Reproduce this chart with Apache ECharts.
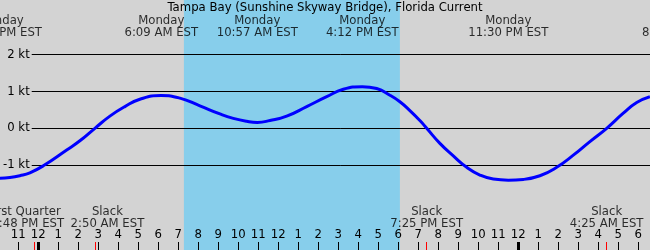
<!DOCTYPE html>
<html><head><meta charset="utf-8">
<script src="https://cdn.jsdelivr.net/npm/echarts@6/dist/echarts.min.js"></script>
<style>html,body{margin:0;padding:0;background:#d3d3d3}#c{width:650px;height:250px}</style>
</head><body><div id="c"></div>
<script>
// ---- data (hours measured from Monday 00:00 EST) ----
const TITLE = 'Tampa Bay (Sunshine Skyway Bridge), Florida Current';
const curveHours = [-1.92, -1.42, -0.92, -0.42, 0.25, 1.42, 2.08, 2.83, 3.58, 4.33, 5.08, 6.15, 7.08, 8.08, 9.08,
  9.75, 10.42, 10.95, 11.58, 12.42, 13.42, 14.42, 15.25, 16.2, 16.92, 17.58, 18.08, 18.58, 19.08, 19.42,
  20.08, 20.75, 21.42, 22.08, 22.75, 23.5, 24.25, 25.08, 25.92, 26.75, 27.58, 28.42, 29.25, 29.92, 30.58];
const curveKnots = [-1.36, -1.34, -1.29, -1.21, -1.02, -0.59, -0.34, 0, 0.33, 0.59, 0.79, 0.89, 0.82, 0.61, 0.39,
  0.27, 0.19, 0.16, 0.21, 0.33, 0.59, 0.86, 1.06, 1.13, 1.08, 0.90, 0.72, 0.48, 0.21, 0,
  -0.41, -0.75, -1.06, -1.27, -1.38, -1.41, -1.39, -1.29, -1.06, -0.73, -0.36, 0, 0.41, 0.70, 0.86];
const daylightStart = 7.28;   // 7:17 AM
const daylightEnd = 18.08;    // 6:05 PM
const extremaHours = [-1.82, 6.15, 10.95, 16.2, 23.5, 32.03];
const extremaDays = ['Sunday', 'Monday', 'Monday', 'Monday', 'Monday', 'Tuesday'];
const extremaTimes = ['10:11 PM EST', '6:09 AM EST', '10:57 AM EST', '4:12 PM EST', '11:30 PM EST', '8:02 AM EST'];
const eventHours = [-0.2, 2.833, 19.417, 28.417];
const eventNames = ['First Quarter', 'Slack', 'Slack', 'Slack'];
const eventTimes = ['11:48 PM EST', '2:50 AM EST', '7:25 PM EST', '4:25 AM EST'];
const hourTicks = [-2, -1, 0, 1, 2, 3, 4, 5, 6, 7, 8, 9, 10, 11, 12, 13, 14, 15, 16, 17, 18, 19, 20, 21, 22, 23, 24, 25, 26, 27, 28, 29, 30];
const midnightTicks = [0, 24];
const yTickMin = -1, yTickMax = 2, yTickStep = 1;
const yUnit = 'kt';

// ---- layout ----
const W = 650, H = 250;
const PX_PER_HOUR = 20, MIDNIGHT_PX = 38.3;
const X_MIN = -MIDNIGHT_PX / PX_PER_HOUR, X_MAX = (W - MIDNIGHT_PX) / PX_PER_HOUR;
const ZERO_PX = 128.3, PX_PER_KT = 36.8;
const Y_MAX = ZERO_PX / PX_PER_KT, Y_MIN = -(H - ZERO_PX) / PX_PER_KT;
const pxToKt = p => (ZERO_PX - p) / PX_PER_KT;
const TOP_LABEL_PX = 26.8, BOTTOM_LABEL_PX = 217.8;
const bottomLabelShift = [-10.3, 12.5, 0, 0];
const FONT = 'DejaVu Sans', FS = 11.7;

const chart = echarts.init(document.getElementById('c'), null, {renderer: 'canvas'});
const hourFmt = v => { const h = ((Math.round(v) % 12) + 12) % 12; return String(h === 0 ? 12 : h); };
const tickAxis = (ticks, color, width, labels) => ({
  type: 'value', gridIndex: 0, position: 'bottom', min: X_MIN, max: X_MAX, z: 6,
  axisLine: {show: false, onZero: false}, splitLine: {show: false},
  axisTick: {show: true, inside: true, length: 8, customValues: ticks, lineStyle: {color, width}},
  axisLabel: labels ? {show: true, inside: true, margin: 9, customValues: ticks, formatter: hourFmt,
    color: '#000', fontFamily: FONT, fontSize: FS, showMinLabel: true, showMaxLabel: true} : {show: false}
});

chart.setOption({
  backgroundColor: '#d3d3d3',
  animation: false,
  title: {text: TITLE, left: 'center', top: 2, padding: 0, z: 8,
    textStyle: {fontFamily: FONT, fontSize: FS, fontWeight: 'normal', color: '#000'}},
  grid: [
    {left: 0, right: 0, top: 0, bottom: 0},
    {left: 30, right: 0, top: ZERO_PX - yTickMax * PX_PER_KT, bottom: H - (ZERO_PX - yTickMin * PX_PER_KT)}
  ],
  xAxis: [
    tickAxis(hourTicks, '#000', 1, true),
    tickAxis(midnightTicks, '#000', 3, false),
    tickAxis(eventHours, '#ff0000', 1, false),
    {type: 'value', gridIndex: 1, min: X_MIN, max: X_MAX, show: false}
  ],
  yAxis: [
    {type: 'value', gridIndex: 0, min: Y_MIN, max: Y_MAX, show: false},
    {type: 'value', gridIndex: 1, min: yTickMin, max: yTickMax, interval: yTickStep, z: 5,
      axisLine: {show: false}, axisTick: {show: false},
      axisLabel: {formatter: '{value} ' + yUnit, margin: 2, color: '#000', fontFamily: FONT, fontSize: FS},
      splitLine: {show: true, lineStyle: {color: '#000', width: 1}}}
  ],
  series: [
    {type: 'line', xAxisIndex: 0, yAxisIndex: 0, data: [], z: 1, silent: true,
      markArea: {silent: true, itemStyle: {color: '#87ceeb', opacity: 1},
        data: [[{xAxis: daylightStart}, {xAxis: daylightEnd}]]}},
    {type: 'line', xAxisIndex: 0, yAxisIndex: 0, z: 10, smooth: 0.5, showSymbol: false, clip: false,
      lineStyle: {color: '#0000ff', width: 3},
      data: curveHours.map((h, i) => [h, curveKnots[i]])},
    {type: 'scatter', xAxisIndex: 0, yAxisIndex: 0, z: 12, symbolSize: 0, clip: false,
      data: extremaHours.map((h, i) => ({value: [h, pxToKt(TOP_LABEL_PX)], name: extremaDays[i] + '\n' + extremaTimes[i]})),
      label: {show: true, position: 'inside', formatter: p => p.name, color: '#000',
        fontFamily: FONT, fontSize: FS, lineHeight: 11.5, align: 'center'}},
    {type: 'scatter', xAxisIndex: 0, yAxisIndex: 0, z: 12, symbolSize: 0, clip: false,
      data: eventHours.map((h, i) => ({value: [h, pxToKt(BOTTOM_LABEL_PX)], name: eventNames[i] + '\n' + eventTimes[i],
        label: {offset: [bottomLabelShift[i], 0]}})),
      label: {show: true, position: 'inside', formatter: p => p.name, color: '#000',
        fontFamily: FONT, fontSize: FS, lineHeight: 11.6, align: 'center'}}
  ]
});
</script></body></html>
